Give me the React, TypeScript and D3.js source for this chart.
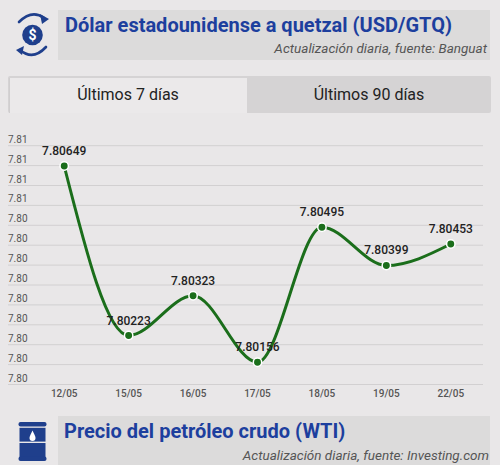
import React from 'react';
import * as d3 from 'd3';

// USD/GTQ, last 7 days
const dates = ['12/05', '15/05', '16/05', '17/05', '18/05', '19/05', '22/05'];
const rates = [7.80649, 7.80223, 7.80323, 7.80156, 7.80495, 7.80399, 7.80453];
const yTicks = [7.807, 7.8065, 7.806, 7.8055, 7.805, 7.8045, 7.804, 7.8035, 7.803, 7.8025, 7.802, 7.8015, 7.801];
const yTickLabels = ['7.81', '7.81', '7.81', '7.81', '7.80', '7.80', '7.80', '7.80', '7.80', '7.80', '7.80', '7.80', '7.80'];
const tabs = ['Últimos 7 días', 'Últimos 90 días'];

const W = 500;
const H = 465;
const BLUE = '#1d3f9e';
const ICON = '#1f3f8c';
const GREEN = '#1b6e1b';
const FONT = 'Roboto, "Noto Sans", sans-serif';

export default function App() {
  const x = d3.scalePoint<string>().domain(dates).range([32, 483]).padding(0.5);
  const y = d3.scaleLinear().domain([7.801, 7.807]).range([384.5, 145.7]);

  const pts = dates.map((d, i) => ({ d, v: rates[i] }));
  const line = d3.line<{ d: string; v: number }>()
    .x(p => x(p.d) || 0)
    .y(p => y(p.v))
    .curve(d3.curveMonotoneX);

  return (
    <div style={{ position: 'absolute', left: 0, top: 0 }}>
      <svg width={W} height={H} style={{ display: 'block', fontFamily: FONT }}>
        <rect width={W} height={H} fill="#e9e7e8" />

        {/* header */}
        <rect x={58} y={10} width={432} height={50} fill="#dcdbdb" />
        <g fill="none" stroke={ICON} strokeWidth={2.6} strokeLinecap="round">
          <path d="M19,22 Q32,9 44,18" />
          <path d="M46,47 Q33,61 20,50" />
        </g>
        <g fill={ICON}>
          <path d="M40,14 L49,19 L42,24 Z" />
          <path d="M24,46 L16,50 L22,55 Z" />
          <circle cx={32.5} cy={35} r={10.3} />
        </g>
        <text x={32.5} y={40} textAnchor="middle" fill="#fff" fontSize={14} fontWeight={700}>$</text>
        <text x={65} y={32} fill={BLUE} fontSize={20} fontWeight={700}>Dólar estadounidense a quetzal (USD/GTQ)</text>
        <text x={487} y={53} textAnchor="end" fill="#555" fontSize={13.5} fontStyle="italic">Actualización diaria, fuente: Banguat</text>

        {/* tabs */}
        <rect x={8} y={76} width={483} height={37} rx={2} fill="#d5d3d4" />
        <rect x={9.5} y={78} width={237.5} height={35} fill="#ebe9ea" />
        <line x1={9.5} x2={9.5} y1={78} y2={113} stroke="#d0cecf" />
        <text x={128} y={100} textAnchor="middle" fill="#222" fontSize={16}>{tabs[0]}</text>
        <text x={369} y={100} textAnchor="middle" fill="#222" fontSize={16}>{tabs[1]}</text>

        {/* grid + y labels */}
        {yTicks.map((t, i) => (
          <g key={i}>
            <line x1={8} x2={483} y1={y(t)} y2={y(t)} stroke="#d2d0d1" strokeWidth={1} />
            <text x={8} y={y(t) - 3} fill="#555" fontSize={10}>{yTickLabels[i]}</text>
          </g>
        ))}

        {/* x labels */}
        {dates.map(d => (
          <text key={d} x={x(d)} y={397} textAnchor="middle" fill="#555" fontSize={10} fontWeight={500}>{d}</text>
        ))}

        <path d={line(pts) || ''} fill="none" stroke={GREEN} strokeWidth={3} />
        {pts.map(p => (
          <g key={p.d}>
            <circle cx={x(p.d)} cy={y(p.v)} r={4.2} fill={GREEN} stroke="#fff" strokeWidth={1.5} />
            <text x={x(p.d)} y={y(p.v) - 11} textAnchor="middle" fill="#222" fontSize={12} fontWeight={500}>{p.v.toFixed(5)}</text>
          </g>
        ))}

        {/* second header */}
        <rect x={58} y={416} width={432} height={49} fill="#dcdbdb" />
        <g fill={ICON}>
          <rect x={18.5} y={422} width={28} height={4.5} rx={2} />
          <rect x={19.5} y={427.8} width={26} height={13.8} />
          <rect x={19.5} y={443} width={26} height={14} />
          <rect x={18.5} y={456.5} width={28} height={4.5} rx={2} />
        </g>
        <path d="M32.5,430.5 C30.5,434.5 29.5,436.5 29.5,438 A3,3 0 0 0 35.5,438 C35.5,436.5 34.5,434.5 32.5,430.5 Z" fill="#fff" />
        <text x={64} y={438} fill={BLUE} fontSize={20} fontWeight={700}>Precio del petróleo crudo (WTI)</text>
        <text x={489} y={460} textAnchor="end" fill="#555" fontSize={13.5} fontStyle="italic">Actualización diaria, fuente: Investing.com</text>
      </svg>
    </div>
  );
}
